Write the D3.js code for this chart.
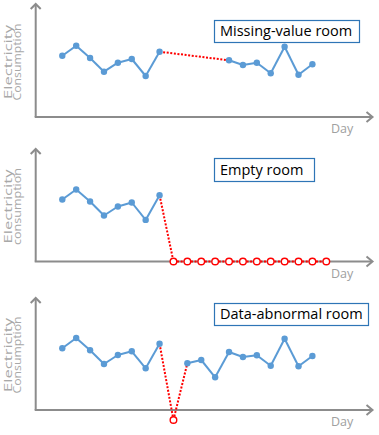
<!DOCTYPE html>
<html><head><meta charset="utf-8">
<script src="https://cdn.jsdelivr.net/npm/d3@7"></script>
<style>html,body{margin:0;padding:0;background:#fff;}svg{display:block;}</style>
</head><body>
<script>
// Data (index = day number - 1). null = missing value
const days = [1,2,3,4,5,6,7,8,9,10,11,12,13,14,15,16,17,18,19,20];
const missingRoom  = [61.3,71.3,59,45.3,54.3,58,41,65.3,null,null,null,null,56.7,52,54.3,43.7,70.3,42.3,52.7,null];
const emptyRoom    = [62,72,60,46,55,59,41.6,66.3,0,0,0,0,0,0,0,0,0,0,0,0];
const abnormalRoom = [61.7,72,59.7,46,55,58.7,41.7,66.3,-10,46.7,50,32.7,58,53,54.7,44.3,71.3,43.7,54,null];
// anomaly flags (1 = abnormal point shown in red)
const emptyFlags    = [0,0,0,0,0,0,0,0,1,1,1,1,1,1,1,1,1,1,1,1];
const abnormalFlags = [0,0,0,0,0,0,0,0,1,0,0,0,0,0,0,0,0,0,0,0];
const missingFlags  = days.map(()=>0);
const titles = ["Missing-value room","Empty room","Data-abnormal room"];
const yLabels = [["Electricity","Consumption"],["Electricity","consumption"],["Electricity","Consumption"]];
const xLabel = "Day";

const W = 379, H = 435;
const svg = d3.select("body").append("svg").attr("width",W).attr("height",H);
const axisColor = "#8c8c8c", blue = "#5b9bd5", red = "#ff0000";

const panels = [
  {vals: missingRoom, flags: missingFlags, axisY: 117, top: 3, box:[214,20,145,22]},
  {vals: emptyRoom, flags: emptyFlags, axisY: 261.5, top: 148, box:[214,158,100,23]},
  {vals: abnormalRoom, flags: abnormalFlags, axisY: 410, top: 297, box:[214,303,154,22]}
];

const x = d3.scaleLinear().domain([1,20]).range([62.3,326.3]);

panels.forEach((p,i)=>{
  const g = svg.append("g");
  const y = d3.scaleLinear().domain([0,100]).range([p.axisY, p.axisY-100]);
  const x0 = 35.7, xEnd = 372.5;
  g.append("line").attr("x1",x0).attr("y1",p.axisY).attr("x2",x0).attr("y2",p.top+1)
    .attr("stroke",axisColor).attr("stroke-width",2);
  g.append("line").attr("x1",x0-1).attr("y1",p.axisY).attr("x2",xEnd-1).attr("y2",p.axisY)
    .attr("stroke",axisColor).attr("stroke-width",2);
  g.append("path").attr("d",`M${x0-5},${p.top+6}L${x0},${p.top+1}L${x0+5},${p.top+6}`)
    .attr("fill","none").attr("stroke",axisColor).attr("stroke-width",2);
  g.append("path").attr("d",`M${xEnd-6},${p.axisY-5}L${xEnd},${p.axisY}L${xEnd-6},${p.axisY+5}`)
    .attr("fill","none").attr("stroke",axisColor).attr("stroke-width",2);
  g.append("text").attr("x",331).attr("y",p.axisY+16).text(xLabel)
    .attr("font-family","Open Sans, sans-serif").attr("font-size",12.5).attr("fill","#a0a0a0");
  const cy = p.axisY-55;
  yLabels[i].forEach((t,k)=>{
    g.append("text").attr("transform",`translate(${11.5+k*9.5},${cy}) rotate(-90)`)
      .attr("text-anchor","middle").text(t)
      .attr("font-family","Open Sans, sans-serif").attr("font-size",11.5).attr("fill","#a8a8a8")
      .attr("textLength", k===0?74:77).attr("lengthAdjust","spacingAndGlyphs");
  });
  const pts = days.map((d,j)=>({d, v:p.vals[j], f:p.flags[j]})).filter(o=>o.v!==null && o.v!==undefined);
  const line = d3.line().x(o=>x(o.d)).y(o=>y(o.v));
  for(let j=0;j<pts.length-1;j++){
    const a=pts[j], b=pts[j+1];
    const normal = !a.f && !b.f && (b.d-a.d===1);
    g.append("path").attr("d",line([a,b])).attr("fill","none")
      .attr("stroke", normal?blue:red).attr("stroke-width",2)
      .attr("stroke-dasharray", normal?null:"2,1.6");
  }
  g.selectAll("circle.n").data(pts.filter(o=>!o.f)).join("circle")
    .attr("cx",o=>x(o.d)).attr("cy",o=>y(o.v)).attr("r",3.2).attr("fill",blue);
  g.selectAll("circle.a").data(pts.filter(o=>o.f)).join("circle")
    .attr("cx",o=>x(o.d)).attr("cy",o=>y(o.v)).attr("r",3.3).attr("fill","#fff")
    .attr("stroke",red).attr("stroke-width",1.4);
  const [bx,by,bw,bh] = p.box;
  g.append("rect").attr("x",bx+0.5).attr("y",by+0.5).attr("width",bw).attr("height",bh)
    .attr("fill","#fff").attr("stroke","#2e75b6").attr("stroke-width",1.2);
  g.append("text").attr("x",bx+6).attr("y",by+bh/2+5.3).text(titles[i])
    .attr("font-family","Open Sans, sans-serif").attr("font-size",14.5).attr("fill","#000");
});
</script>
</body></html>
